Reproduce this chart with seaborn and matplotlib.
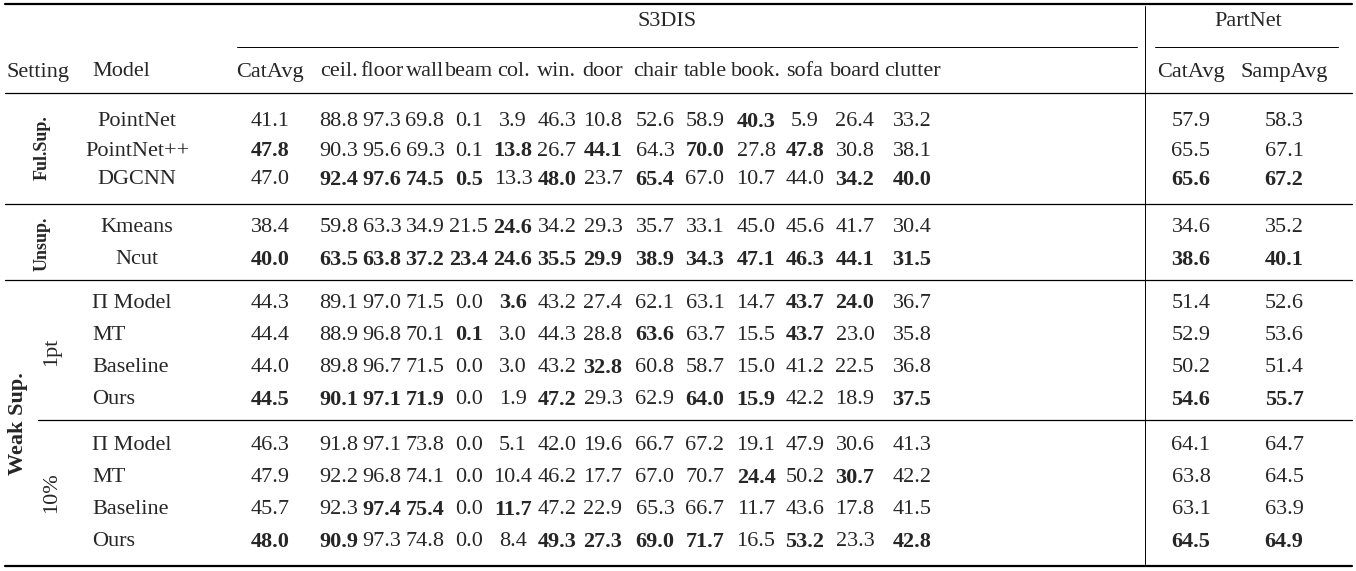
import matplotlib
matplotlib.use("Agg")
import matplotlib.pyplot as plt
import seaborn as sns

sns.set_theme(style="white")
plt.rcParams['font.family'] = ['Liberation Serif', 'DejaVu Serif']

columns = ['CatAvg', 'ceil.', 'floor', 'wall', 'beam', 'col.', 'win.', 'door', 'chair',
           'table', 'book.', 'sofa', 'board', 'clutter', 'CatAvg', 'SampAvg']
models = ['PointNet', 'PointNet++', 'DGCNN', 'Kmeans', 'Ncut',
          'Π Model', 'MT', 'Baseline', 'Ours', 'Π Model', 'MT', 'Baseline', 'Ours']
values = [
    [41.1, 88.8, 97.3, 69.8, 0.1, 3.9, 46.3, 10.8, 52.6, 58.9, 40.3, 5.9, 26.4, 33.2, 57.9, 58.3],
    [47.8, 90.3, 95.6, 69.3, 0.1, 13.8, 26.7, 44.1, 64.3, 70.0, 27.8, 47.8, 30.8, 38.1, 65.5, 67.1],
    [47.0, 92.4, 97.6, 74.5, 0.5, 13.3, 48.0, 23.7, 65.4, 67.0, 10.7, 44.0, 34.2, 40.0, 65.6, 67.2],
    [38.4, 59.8, 63.3, 34.9, 21.5, 24.6, 34.2, 29.3, 35.7, 33.1, 45.0, 45.6, 41.7, 30.4, 34.6, 35.2],
    [40.0, 63.5, 63.8, 37.2, 23.4, 24.6, 35.5, 29.9, 38.9, 34.3, 47.1, 46.3, 44.1, 31.5, 38.6, 40.1],
    [44.3, 89.1, 97.0, 71.5, 0.0, 3.6, 43.2, 27.4, 62.1, 63.1, 14.7, 43.7, 24.0, 36.7, 51.4, 52.6],
    [44.4, 88.9, 96.8, 70.1, 0.1, 3.0, 44.3, 28.8, 63.6, 63.7, 15.5, 43.7, 23.0, 35.8, 52.9, 53.6],
    [44.0, 89.8, 96.7, 71.5, 0.0, 3.0, 43.2, 32.8, 60.8, 58.7, 15.0, 41.2, 22.5, 36.8, 50.2, 51.4],
    [44.5, 90.1, 97.1, 71.9, 0.0, 1.9, 47.2, 29.3, 62.9, 64.0, 15.9, 42.2, 18.9, 37.5, 54.6, 55.7],
    [46.3, 91.8, 97.1, 73.8, 0.0, 5.1, 42.0, 19.6, 66.7, 67.2, 19.1, 47.9, 30.6, 41.3, 64.1, 64.7],
    [47.9, 92.2, 96.8, 74.1, 0.0, 10.4, 46.2, 17.7, 67.0, 70.7, 24.4, 50.2, 30.7, 42.2, 63.8, 64.5],
    [45.7, 92.3, 97.4, 75.4, 0.0, 11.7, 47.2, 22.9, 65.3, 66.7, 11.7, 43.6, 17.8, 41.5, 63.1, 63.9],
    [48.0, 90.9, 97.3, 74.8, 0.0, 8.4, 49.3, 27.3, 69.0, 71.7, 16.5, 53.2, 23.3, 42.8, 64.5, 64.9],
]
# column indices shown in bold per row
bold = [
    [10], [0, 5, 7, 9, 11], [1, 2, 3, 4, 6, 8, 12, 13, 14, 15],
    [5], list(range(16)),
    [5, 11, 12], [4, 8, 11], [7], [0, 1, 2, 3, 6, 9, 10, 13, 14, 15],
    [], [10, 12], [2, 3, 5], [0, 1, 6, 7, 8, 9, 11, 13, 14, 15],
]

col_x = [270, 339, 382, 425, 469, 513, 557, 603, 655, 705, 756, 805, 855, 912, 1191, 1284]
row_y = [122, 151, 180, 228, 260, 303, 335, 368, 400, 445, 478, 510, 542]
fs = 16

fig = plt.figure(figsize=(13.56, 5.71), dpi=100)
ax = fig.add_axes([0, 0, 1, 1])
ax.set_xlim(0, 1356)
ax.set_ylim(571, 0)
ax.axis('off')

# rules
ax.plot([5, 1352], [4, 4], color='black', lw=1.6)
ax.plot([5, 1352], [93, 93], color='black', lw=0.9)
ax.plot([5, 1352], [204, 204], color='black', lw=0.9)
ax.plot([5, 1352], [280, 280], color='black', lw=0.9)
ax.plot([38, 1352], [420, 420], color='black', lw=0.9)
ax.plot([5, 1352], [566, 566], color='black', lw=1.6)
ax.plot([237, 1137], [47, 47], color='black', lw=0.7)
ax.plot([1155, 1338], [47, 47], color='black', lw=0.7)
ax.plot([1145, 1145], [6, 564], color='black', lw=0.7)

# headers
ax.text(667, 22, 'S3DIS', ha='center', va='center', fontsize=fs)
ax.text(1248, 22, 'PartNet', ha='center', va='center', fontsize=fs)
ax.text(6, 72, 'Setting', ha='left', va='center', fontsize=fs)
ax.text(92, 72, 'Model', ha='left', va='center', fontsize=fs)
for c, x in zip(columns, col_x):
    ax.text(x, 72, c, ha='center', va='center', fontsize=fs)

# setting labels
ax.text(42, 148, 'Ful.Sup.', rotation=90, ha='center', va='center', fontsize=13, fontweight='bold')
ax.text(42, 244, 'Unsup.', rotation=90, ha='center', va='center', fontsize=13, fontweight='bold')
ax.text(18, 424, 'Weak Sup.', rotation=90, ha='center', va='center', fontsize=fs, fontweight='bold')
ax.text(52, 352, '1pt', rotation=90, ha='center', va='center', fontsize=fs)
ax.text(52, 493, '10%', rotation=90, ha='center', va='center', fontsize=fs)

for i, (m, y) in enumerate(zip(models, row_y)):
    if i < 5:
        ax.text(137, y, m, ha='center', va='center', fontsize=fs)
    else:
        ax.text(92, y, m, ha='left', va='center', fontsize=fs)
    for j, (v, x) in enumerate(zip(values[i], col_x)):
        ax.text(x, y, f'{v:.1f}', ha='center', va='center', fontsize=fs,
                fontweight='bold' if j in bold[i] else 'normal')

fig.savefig('out.png', dpi=100)
